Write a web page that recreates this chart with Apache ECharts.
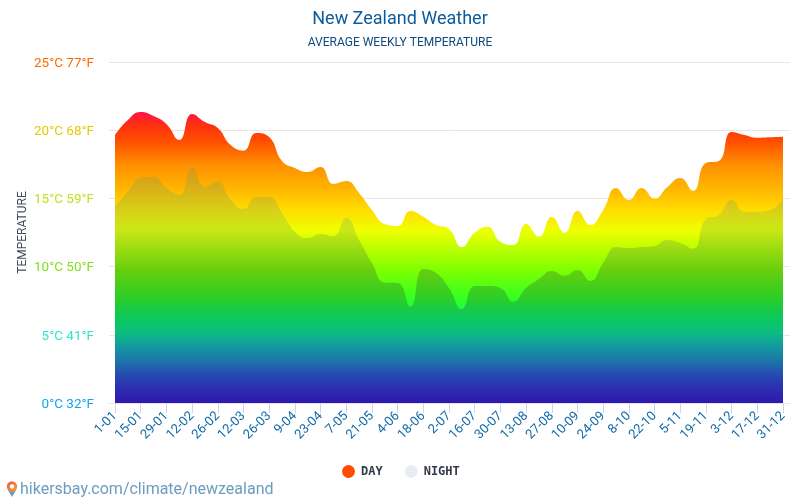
<!DOCTYPE html>
<html>
<head>
<meta charset="utf-8">
<script src="https://cdn.jsdelivr.net/npm/echarts@6/dist/echarts.min.js"></script>
<style>
html,body{margin:0;padding:0;background:#fff}
#main{width:800px;height:500px}
</style>
</head>
<body>
<div id="main"></div>
<script>
var week_labels = ['1-01','8-01','15-01','22-01','29-01','5-02','12-02','19-02','26-02','5-03','12-03','19-03','26-03','2-04','9-04','16-04','23-04','30-04','7-05','14-05','21-05','28-05','4-06','11-06','18-06','25-06','2-07','9-07','16-07','23-07','30-07','6-08','13-08','20-08','27-08','3-09','10-09','17-09','24-09','1-10','8-10','15-10','22-10','29-10','5-11','12-11','19-11','26-11','3-12','10-12','17-12','24-12','31-12'];
var day_temp = [19.65,20.75,21.33,21.04,20.45,19.28,21.19,20.6,20.16,18.91,18.5,19.79,19.5,17.74,17.23,16.94,17.3,16.06,16.28,15.4,14.15,13.12,12.98,14.08,13.66,13.05,12.76,11.44,12.49,12.93,11.83,11.58,13.12,12.19,13.64,12.49,14.08,13.05,14.15,15.76,14.88,15.76,14.98,15.84,16.5,15.56,17.6,17.74,19.87,19.65,19.45,19.48,19.52];
var night_temp = [14.44,15.49,16.52,16.57,15.76,15.25,17.23,15.86,16.22,14.88,14.22,15.1,15.1,13.93,12.56,12.1,12.39,12.24,13.59,11.95,10.26,8.82,8.8,7.06,9.82,9.53,8.43,6.89,8.58,8.58,8.43,7.43,8.43,9.09,9.68,9.33,9.75,8.94,10.26,11.44,11.36,11.44,11.51,11.95,11.73,11.31,13.49,13.78,14.88,14.02,14.02,14.15,14.96];
var y_ticks = [0,5,10,15,20,25];
var y_tick_labels = ['0°C 32°F','5°C 41°F','10°C 50°F','15°C 59°F','20°C 68°F','25°C 77°F'];
var y_tick_colors = ['#12a5ee','#30e6c8','#7fe020','#c4e020','#e8c808','#ff6a00'];

var myChart = echarts.init(document.getElementById('main'), null, {renderer:'canvas'});

// one rich style per tick label, the top padding pushes the text down a little
var y_label_rich = {};
for(var i=0;i<y_ticks.length;i++){
    y_label_rich['t'+i] = {fontSize:13.5,fontFamily:'Roboto',color:y_tick_colors[i],padding:[3,0,0,0]};
}

// colours by height of the plot, bottom = 0 degrees, top of gradient = about 22 degrees
var heat_gradient = new echarts.graphic.LinearGradient(0,403,0,106,[
    {offset:0,color:'rgb(57,27,205)'},
    {offset:0.054,color:'rgb(52,58,205)'},
    {offset:0.101,color:'rgb(42,98,205)'},
    {offset:0.145,color:'rgb(32,148,195)'},
    {offset:0.189,color:'rgb(22,188,185)'},
    {offset:0.236,color:'rgb(12,233,145)'},
    {offset:0.28,color:'rgb(10,248,105)'},
    {offset:0.31,color:'rgb(24,250,80)'},
    {offset:0.35,color:'rgb(50,255,35)'},
    {offset:0.45,color:'#80ff00'},
    {offset:0.582,color:'#f0ff00'},
    {offset:0.65,color:'#ffdc00'},
    {offset:0.717,color:'#ffb800'},
    {offset:0.8,color:'#ff9000'},
    {offset:0.885,color:'#ff4c00'},
    {offset:0.936,color:'#ff3010'},
    {offset:0.987,color:'#ff0f50'},
    {offset:1,color:'#ff0f50'}
], true);
var night_gradient = new echarts.graphic.LinearGradient(0,403,0,168,[
    {offset:0,color:'rgba(10,10,60,0.2)'},
    {offset:0.56,color:'rgba(10,10,60,0.2)'},
    {offset:0.78,color:'rgba(40,150,130,0.18)'},
    {offset:1,color:'rgba(40,150,130,0.18)'}
], true);

option = {
    animation:false,
    backgroundColor:'#fff',
    textStyle:{fontFamily:'Roboto'},
    title:[
        {text:'New Zealand Weather',left:'center',top:5,textStyle:{fontSize:18,fontWeight:'normal',color:'#0b5c9e',fontFamily:'Roboto'}},
        {text:'AVERAGE WEEKLY TEMPERATURE',left:'center',top:32,textStyle:{fontSize:12,fontWeight:'normal',color:'#0e4a80',fontFamily:'Roboto'}},
        {text:'hikersbay.com/climate/newzealand',left:15,top:477,textStyle:{fontSize:16,fontWeight:'normal',color:'#6b9dbf',fontFamily:'Roboto'}}
    ],
    legend:{
        data:[
            {name:'DAY',icon:'circle',itemStyle:{color:'#ff4d00'}},
            {name:'NIGHT',icon:'circle',itemStyle:{color:'#e8edf5'}}
        ],
        left:337,top:460,itemWidth:13,itemHeight:13,itemGap:22,selectedMode:false,
        textStyle:{fontFamily:'DejaVu Sans Mono',fontWeight:'bold',fontSize:12,color:'#333a4a',padding:[0,0,0,1]}
    },
    grid:[
        {left:115,top:62,width:668,height:341},
        {left:109,top:62,width:681,height:341}
    ],
    xAxis:[
        {
            type:'category',gridIndex:0,data:week_labels,boundaryGap:false,
            axisLine:{show:false},
            axisTick:{interval:1,length:10,lineStyle:{color:'#ccd6eb'}},
            axisLabel:{interval:1,rotate:45,fontSize:13,color:'#0f6aa8',margin:11,fontFamily:'Roboto'},
            splitLine:{show:false}
        },
        {
            type:'value',gridIndex:1,min:0,max:1,
            axisLine:{show:true,lineStyle:{color:'#dfe6ef'}},
            axisTick:{show:false},axisLabel:{show:false},splitLine:{show:false}
        }
    ],
    yAxis:[
        {
            type:'value',gridIndex:0,min:0,max:25,interval:5,
            name:'TEMPERATURE',nameLocation:'middle',nameGap:86,nameRotate:90,
            nameTextStyle:{fontSize:12,color:'#444c5c',fontFamily:'Roboto'},
            axisLine:{show:false},axisTick:{show:false},axisLabel:{show:false},splitLine:{show:false}
        },
        {
            type:'value',gridIndex:1,min:0,max:25,interval:5,
            axisLine:{show:false},axisTick:{show:false},
            axisLabel:{
                margin:15,fontSize:13.5,fontFamily:'Roboto',rich:y_label_rich,
                formatter:function(v){
                    var k = y_ticks.indexOf(v);
                    return '{t'+k+'|'+y_tick_labels[k]+'}';
                }
            },
            splitLine:{lineStyle:{color:'#e6e6e6',width:1}}
        }
    ],
    series:[
        {
            name:'DAY',type:'line',xAxisIndex:0,yAxisIndex:0,data:day_temp,smooth:0.5,
            showSymbol:false,lineStyle:{width:0},areaStyle:{color:heat_gradient,opacity:1},z:3
        },
        {
            name:'NIGHT',type:'line',xAxisIndex:0,yAxisIndex:0,data:night_temp,smooth:0.5,
            showSymbol:false,lineStyle:{width:0},areaStyle:{color:night_gradient,opacity:1},z:4
        }
    ],
    graphic:[
        {type:'polygon',shape:{points:[[7.6,489.5],[16.4,489.5],[12,497]]},style:{fill:'#5f9fc4'}},
        {type:'circle',shape:{cx:12,cy:486.5,r:5.2},style:{fill:new echarts.graphic.LinearGradient(0,0,1,1,[{offset:0,color:'#ef5350'},{offset:1,color:'#f5a623'}])}},
        {type:'circle',shape:{cx:12,cy:486.5,r:2.2},style:{fill:'#fff'}}
    ]
};
myChart.setOption(option);
</script>
</body>
</html>
